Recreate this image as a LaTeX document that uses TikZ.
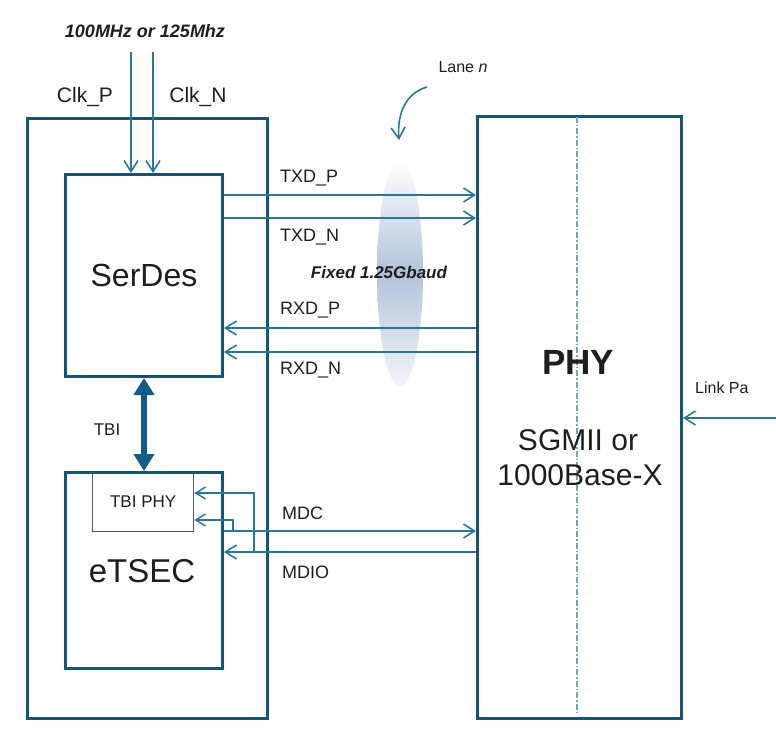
\documentclass[tikz,border=0pt]{standalone}
\usepackage{fontspec}
\setmainfont{Liberation Sans}
\usetikzlibrary{arrows.meta,calc}
\definecolor{boxc}{RGB}{22,84,118}
\definecolor{linec}{RGB}{42,118,158}
\definecolor{txtc}{RGB}{30,30,30}
\definecolor{dashc}{RGB}{110,165,200}
\definecolor{lanec}{RGB}{178,195,218}
\definecolor{tbic}{RGB}{18,92,138}
\begin{document}
\begin{tikzpicture}[x=1pt,y=-1pt,
  blk/.style={draw=boxc, line width=3pt, rectangle, inner sep=0pt, anchor=north west, text=txtc},
  sig/.style={draw=linec, line width=1.6pt, -{Straight Barb[length=11pt,width=14pt]}},
  sigthin/.style={draw=linec, line width=1.4pt, -{Straight Barb[length=10pt,width=12pt]}},
  lbl/.style={text=txtc, font=\fontsize{18}{20}\selectfont, anchor=west, inner sep=0pt},
  ttl/.style={text=txtc, inner sep=0pt},
]
\useasboundingbox (0,0) rectangle (776,730);

% lane ellipse
\shade[top color=white, bottom color=white!85!lanec, middle color=lanec]
  (400,273) ellipse [x radius=23, y radius=113];

% boxes
\node[blk, minimum width=240pt, minimum height=600pt] (chip) at (26,117) {};
\node[blk, minimum width=157pt, minimum height=202pt, font=\fontsize{32}{34}\selectfont] (serdes) at (64,173) {SerDes};
\node[draw=black!65, line width=1.3pt, rectangle, inner sep=0pt, anchor=north west,
      minimum width=101pt, minimum height=60pt, text=txtc, font=\fontsize{17}{19}\selectfont] (tbiphy) at (92,471) {TBI PHY};
\node[blk, minimum width=157pt, minimum height=196pt] (etsec) at (64,471) {};
\node[ttl, font=\fontsize{33}{35}\selectfont] (etsectxt) at (142,571) {eTSEC};
\node[blk, minimum width=204pt, minimum height=602pt] (phy) at (476,115) {};
\coordinate (dtop) at (577,117);
\coordinate (dbot) at (577,715);
\draw[dashc, line width=1.3pt, dash pattern=on 6pt off 2pt on 1.5pt off 2pt] (dtop) -- (dbot);

\node[ttl, font=\bfseries\fontsize{35}{37}\selectfont] (phyt) at (578,362) {PHY};
\node[ttl, font=\fontsize{30}{32}\selectfont] (sg1) at (578,440) {SGMII or};
\node[ttl, font=\fontsize{30}{32}\selectfont] (sg2) at (580,475) {1000Base-X};

% clocks
\node[ttl, font=\bfseries\itshape\fontsize{18}{20}\selectfont] (freq) at (145,31) {100MHz or 125Mhz};
\node[ttl, font=\fontsize{21}{23}\selectfont] (clkp) at (85,97) {Clk\_P};
\node[ttl, font=\fontsize{21}{23}\selectfont] (clkn) at (198,97) {Clk\_N};
\coordinate (cp) at (131,52);
\coordinate (cn) at (153,52);
\draw[sig] (cp) -- (cp |- serdes.north);
\draw[sig] (cn) -- (cn |- serdes.north);

% TX / RX
\coordinate (ytxp) at (0,195);
\coordinate (ytxn) at (0,218);
\coordinate (yrxp) at (0,328);
\coordinate (yrxn) at (0,352);
\draw[sig] (serdes.east |- ytxp) -- (phy.west |- ytxp);
\draw[sig] (serdes.east |- ytxn) -- (phy.west |- ytxn);
\draw[sig] (phy.west |- yrxp) -- (serdes.east |- yrxp);
\draw[sig] (phy.west |- yrxn) -- (serdes.east |- yrxn);
\node[lbl] (ltxp) at (280,178) {TXD\_P};
\node[lbl] (ltxn) at (280,237) {TXD\_N};
\node[lbl] (lrxp) at (280,310) {RXD\_P};
\node[lbl] (lrxn) at (280,370) {RXD\_N};
\node[ttl, font=\bfseries\itshape\fontsize{17}{19}\selectfont] (fixed) at (379,272) {Fixed 1.25Gbaud};

% lane n
\node[ttl, font=\fontsize{16}{18}\selectfont] (lane) at (463,67) {Lane \textit{n}};
\coordinate (ls) at (427,87);
\coordinate (le) at (399,140);
\draw[sig] (ls) .. controls (406,93) and (397,113) .. (le);

% TBI
\draw[tbic, line width=6pt, {Triangle[width=20pt,length=17pt]}-{Triangle[width=20pt,length=17pt]}] (serdes.south) -- (etsec.north);
\node[ttl, font=\fontsize{17}{19}\selectfont] (tbil) at (107,430) {TBI};

% MDC / MDIO
\coordinate (ymdc) at (0,531);
\coordinate (ymdio) at (0,552);
\draw[sig] (etsec.east |- ymdc) -- (phy.west |- ymdc);
\draw[sig] (phy.west |- ymdio) -- (etsec.east |- ymdio);
\coordinate (b1) at (233,531);
\coordinate (b1t) at (233,520);
\coordinate (b2) at (254,552);
\coordinate (b2t) at (254,493);
\draw[sigthin] (b1) -- (b1t) -- (tbiphy.east |- b1t);
\draw[sigthin] (b2) -- (b2t) -- (tbiphy.east |- b2t);
\node[lbl] (lmdc) at (282,513) {MDC};
\node[lbl] (lmdio) at (282,572) {MDIO};

% link partner
\coordinate (lnk) at (776,418);
\draw[sig] (lnk) -- (phy.east |- lnk);
\node[lbl, font=\fontsize{16}{18}\selectfont] (lp) at (695,388) {Link Pa};
\end{tikzpicture}
\end{document}
